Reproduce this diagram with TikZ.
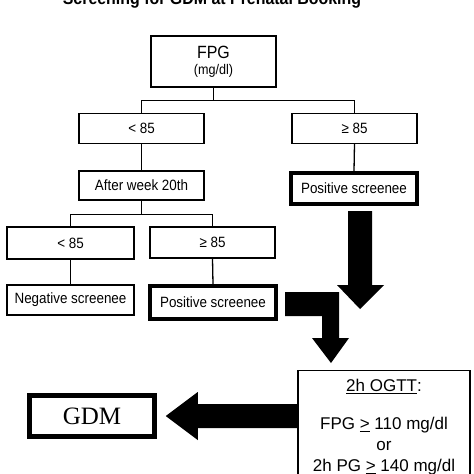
\documentclass[tikz,border=0pt]{standalone}
\usepackage{fontspec}
\setmainfont{Liberation Sans}[FakeStretch=0.9]
\newfontfamily\plainsans{Liberation Sans}
\newfontfamily\gdmfont{Liberation Serif}
\usetikzlibrary{calc}
\tikzset{
  box/.style={draw=black, line width=1.2pt, rectangle, inner sep=0pt, align=center,
    font=\fontsize{14.9}{17}\selectfont},
  thickbox/.style={box, line width=4pt},
  wire/.style={draw=black, line width=1.3pt},
  blockarrow/.style={fill=black, draw=none}
}
\begin{document}
\begin{tikzpicture}[x=1pt,y=-1pt]
\useasboundingbox (0,0) rectangle (474,474);
\clip (0,0) rectangle (474,474);
% title (cut off at the top)
\node[anchor=base, inner sep=0pt, font=\bfseries\fontsize{17.7}{20}\selectfont] (title) at (212,4) {Screening for GDM at Prenatal Booking};
% first level
\node[box, minimum width=125pt, minimum height=51pt] (fpg) at (213.5,61.5)
  {{\fontsize{17.7}{20}\selectfont FPG}\\[-1pt]{\fontsize{14}{16}\selectfont (mg/dl)}};
\node[box, minimum width=125pt, minimum height=30pt] (lt1) at (141.5,128.5) {< 85};
\node[box, minimum width=125pt, minimum height=30pt] (ge1) at (354.5,128.5) {≥ 85};
\node[box, minimum width=125pt, minimum height=29pt] (aw) at (141.5,185.5) {After week 20th};
\node[thickbox, minimum width=126pt, minimum height=31pt] (ps1) at (354,188.5) {Positive screenee};
% second level
\node[box, minimum width=127pt, minimum height=32pt] (lt2) at (70.5,243) {< 85};
\node[box, minimum width=125pt, minimum height=31pt] (ge2) at (212.5,242.5) {≥ 85};
\node[box, minimum width=127pt, minimum height=30pt] (neg) at (70.5,300) {Negative screenee};
\node[thickbox, minimum width=126pt, minimum height=33pt] (ps2) at (213,302.5) {Positive screenee};
% OGTT box
\node[box, anchor=north, minimum width=172pt, inner ysep=8.5pt, font=\plainsans\fontsize{17}{21}\selectfont] (ogtt) at (384,370)
  {\underline{2h OGTT}:\\[17pt]FPG \underline{>} 110 mg/dl\\or\\2h PG \underline{>} 140 mg/dl};
% GDM box
\node[box, line width=5.5pt, minimum width=125pt, minimum height=41pt, font=\gdmfont\fontsize{25}{27}\selectfont] (gdm) at (92,416) {GDM};
% connectors
\draw[wire] (fpg.south) -- ++(0,13) coordinate (j1) -| (lt1.north);
\draw[wire] (j1) -| (ge1.north);
\draw[wire] (lt1.south) -- (aw.north);
\draw[wire] (ge1.south) -- (ps1.north);
\draw[wire] (aw.south) -- ++(0,14) coordinate (j2) -| (lt2.north);
\draw[wire] (j2) -| (ge2.north);
\draw[wire] (lt2.south) -- (neg.north);
\draw[wire] (ge2.south) -- (ps2.north);
% block arrows
\begin{scope}[shift={(ps1.south)}]
  \fill[blockarrow] (-6,5) -- (18,5) -- (18,79) -- (30,79) -- (6,103) -- (-17,79) -- (-6,79) -- cycle;
\end{scope}
\begin{scope}[shift={(ps2.east)}]
  \fill[blockarrow] (7,-10.5) -- (61,-10.5) -- (61,35.5) -- (71,35.5) -- (53,60.5) -- (34,35.5) -- (44,35.5) -- (44,13.5) -- (7,13.5) -- cycle;
\end{scope}
\begin{scope}[shift={(gdm.east)}]
  \fill[blockarrow] (8.5,0) -- (40.5,-24) -- (40.5,-12) -- (139.5,-12) -- (139.5,12) -- (40.5,12) -- (40.5,24) -- cycle;
\end{scope}
\end{tikzpicture}
\end{document}
